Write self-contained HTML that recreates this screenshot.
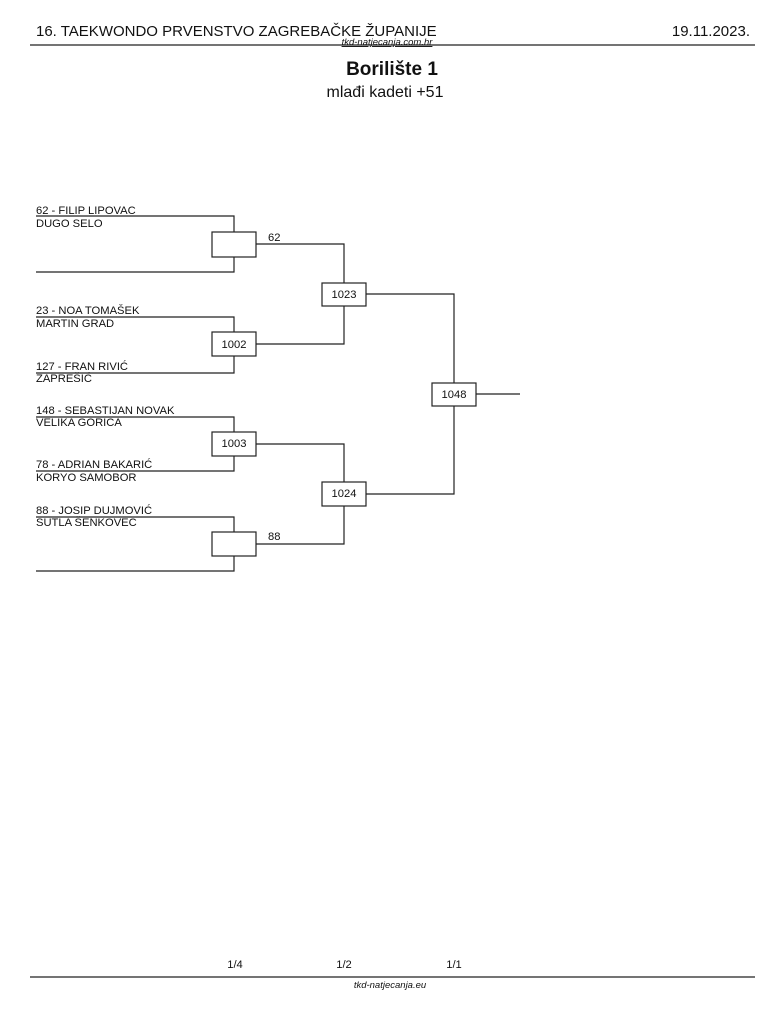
<!DOCTYPE html>
<html><head><meta charset="utf-8"><style>
html,body{margin:0;padding:0;background:#fff;width:768px;height:1024px;overflow:hidden}
svg{display:block}
text{font-family:"Liberation Sans",sans-serif;fill:#111}
</style></head><body>
<svg width="768" height="1024" viewBox="0 0 768 1024" xmlns="http://www.w3.org/2000/svg">
<g stroke="#222" stroke-width="1.2" fill="none">
<line x1="30" y1="45" x2="755" y2="45"/>
<line x1="30" y1="977" x2="755" y2="977"/>
<polyline points="36,216 234,216 234,232"/><polyline points="36,272 234,272 234,257"/>
<polyline points="36,317 234,317 234,333"/><polyline points="36,373 234,373 234,356"/>
<polyline points="36,417 234,417 234,432"/><polyline points="36,471 234,471 234,456"/>
<polyline points="36,517 234,517 234,532"/><polyline points="36,571 234,571 234,556"/>
<rect x="212" y="232" width="44" height="25" fill="#fff"/>
<rect x="212" y="332" width="44" height="24" fill="#fff"/>
<rect x="212" y="432" width="44" height="24" fill="#fff"/>
<rect x="212" y="532" width="44" height="24" fill="#fff"/>
<polyline points="256,244 344,244 344,283"/><polyline points="256,344 344,344 344,306"/>
<polyline points="256,444 344,444 344,482"/><polyline points="256,544 344,544 344,506"/>
<rect x="322" y="283" width="44" height="23" fill="#fff"/>
<rect x="322" y="482" width="44" height="24" fill="#fff"/>
<polyline points="366,294 454,294 454,383"/><polyline points="366,494 454,494 454,406"/>
<rect x="432" y="383" width="44" height="23" fill="#fff"/>
<line x1="476" y1="394" x2="520" y2="394"/>
</g>
<text x="36" y="36" font-size="15">16. TAEKWONDO PRVENSTVO ZAGREBAČKE ŽUPANIJE</text>
<text x="750" y="36" font-size="15" text-anchor="end">19.11.2023.</text>
<text x="387" y="45" font-size="9.5" font-style="italic" text-anchor="middle" text-decoration="underline">tkd-natjecanja.com.hr</text>
<text x="392" y="75" font-size="19" font-weight="bold" text-anchor="middle">Borilište 1</text>
<text x="385" y="97" font-size="16" text-anchor="middle">mlađi kadeti +51</text>
<g font-size="11.2">
<text x="36" y="214">62 - FILIP LIPOVAC</text><text x="36" y="227">DUGO SELO</text>
<text x="36" y="314">23 - NOA TOMAŠEK</text><text x="36" y="327">MARTIN GRAD</text>
<text x="36" y="370">127 - FRAN RIVIĆ</text><text x="36" y="382">ZAPREŠIĆ</text>
<text x="36" y="414">148 - SEBASTIJAN NOVAK</text><text x="36" y="426">VELIKA GORICA</text>
<text x="36" y="468">78 - ADRIAN BAKARIĆ</text><text x="36" y="481">KORYO SAMOBOR</text>
<text x="36" y="514">88 - JOSIP DUJMOVIĆ</text><text x="36" y="526">SUTLA ŠENKOVEC</text>
<text x="268" y="241">62</text><text x="268" y="540">88</text>
<text x="234" y="348" text-anchor="middle">1002</text>
<text x="234" y="447" text-anchor="middle">1003</text>
<text x="344" y="298" text-anchor="middle">1023</text>
<text x="344" y="497" text-anchor="middle">1024</text>
<text x="454" y="398" text-anchor="middle">1048</text>
<text x="235" y="968" text-anchor="middle">1/4</text>
<text x="344" y="968" text-anchor="middle">1/2</text>
<text x="454" y="968" text-anchor="middle">1/1</text>
</g>
<text x="390" y="988" font-size="9.5" font-style="italic" text-anchor="middle">tkd-natjecanja.eu</text>
</svg>
</body></html>
